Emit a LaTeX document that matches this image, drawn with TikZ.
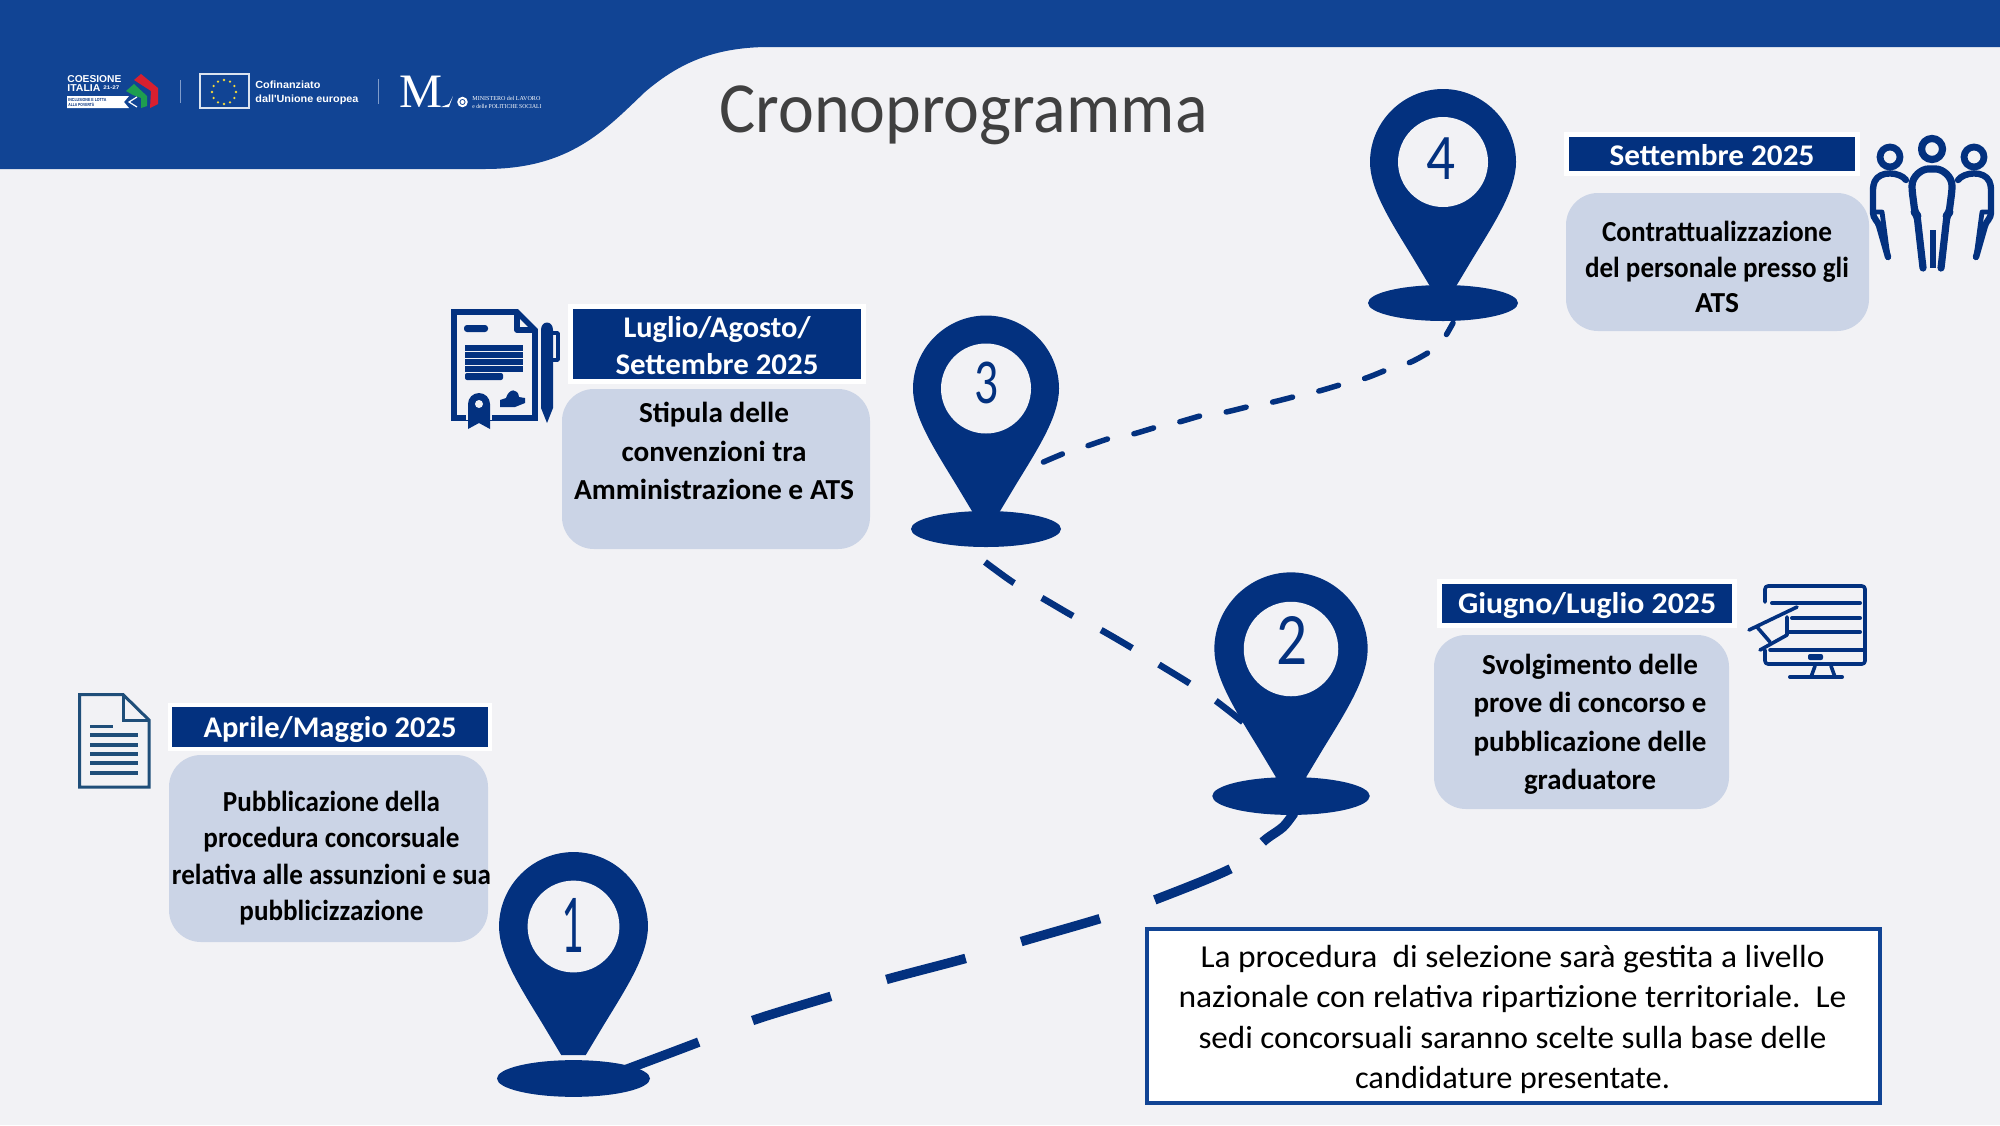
\documentclass[tikz,border=0pt]{standalone}
\usepackage{fontspec}
\usepackage{graphicx}
\usetikzlibrary{shapes.geometric}
\setmainfont{Carlito}
\newfontfamily\logosans{Liberation Sans}
\newfontfamily\logoserif{Liberation Serif}
\definecolor{navy}{HTML}{03317F}
\definecolor{hblue}{HTML}{114494}
\definecolor{bgpage}{HTML}{F2F2F5}
\definecolor{cardfill}{HTML}{CBD4E6}
\definecolor{docblue}{HTML}{1F4E79}
\definecolor{titlegrey}{HTML}{404040}
\definecolor{logored}{HTML}{D8202F}
\definecolor{loggreen}{HTML}{1E9E50}
\definecolor{logsep}{HTML}{7F9CCB}
\definecolor{eustar}{HTML}{F4D93A}
% one line of text set to a measured width (pixels of the reference)
\newcommand\Ln[2]{\resizebox{\dimexpr#1pt/2\relax}{\height}{#2}}
\newcommand\Dn[2]{\raisebox{#1}[\height][\depth]{#2}}
\tikzset{
  x=0.5pt,y=-0.5pt,
  boxsize/.style 2 args={minimum width=#1*0.5pt,minimum height=#2*0.5pt},
  datebox/.style={fill=navy,draw=white,line width=2.2pt,text=white,inner sep=0pt,outer sep=0pt,
     align=center,font=\bfseries\fontsize{15}{18.5}\selectfont},
  card/.style={fill=cardfill,rounded corners=16pt,inner sep=0pt,outer sep=0pt},
  cardtext/.style={text=black,inner sep=0pt,align=center,font=\bfseries\fontsize{14.5}{#1}\selectfont},
  pinbase/.style={ellipse,fill=navy,inner sep=0pt,outer sep=0pt},
  pinhole/.style={circle,fill=bgpage,inner sep=0pt,outer sep=0pt},
  pindigit/.style={text=navy,inner sep=0pt,outer sep=0pt},
  road/.style={navy,line width=#1*0.5pt},
  icon/.style={navy,line width=1.8pt,line join=round,line cap=round},
  logotxt/.style={text=white,inner sep=0pt,font=\logosans\bfseries\fontsize{#1}{#1}\selectfont},
}
% id, cx, cy, scale, base offset
\newcommand\placepin[5]{%
  \begin{scope}[shift={(#2,#3)},scale=#4]
    \fill[navy] (12,126) -- (30,96) .. controls (52,60) and (73,28) .. (73,0)
      .. controls (73,-40) and (40,-73) .. (0,-73)
      .. controls (-40,-73) and (-73,-40) .. (-73,0)
      .. controls (-73,28) and (-52,60) .. (-30,96) -- (-12,126) -- cycle;
    \node[pinbase,minimum width=#4*75pt,minimum height=#4*18pt] (base#1) at (0,#5) {};
    \node[pinhole,minimum size=#4*45pt] (hole#1) at (0,0) {};
  \end{scope}}
\begin{document}
\begin{tikzpicture}
\useasboundingbox (0,0) rectangle (2000,1125);
\fill[bgpage] (0,0) rectangle (2000,1125);
% header band
\fill[hblue] (0,0) -- (2000,0) -- (2000,47) -- (765,47)
  .. controls (715,48) and (680,62) .. (645,92)
  .. controls (605,130) and (570,169) .. (485,169) -- (0,169) -- cycle;
% --- logos
\node[logotxt=5,anchor=base west] (lgA) at (67,82) {\Ln{54}{COESIONE}};
\node[logotxt=5,anchor=base west] (lgB) at (67,91) {\Ln{33}{ITALIA}};
\node[logotxt=2.6,anchor=base west] (lgC) at (103,89) {\Ln{16}{21-27}};
\fill[white] (67,96) -- (129,96) -- (124,102) -- (129,108) -- (67,108) -- cycle;
\node[logotxt=2.2,text=navy,anchor=base west] (lgD) at (68,101.5) {\Ln{38}{INCLUSIONE E LOTTA}};
\node[logotxt=2.2,text=navy,anchor=base west] (lgE) at (68,106.5) {\Ln{26}{ALLA POVERTÀ}};
\fill[logored] (134,80) -- (141,74) -- (158,88) -- (158,104) -- (150,108) -- (151,91) -- cycle;
\fill[loggreen] (126,91) -- (134,84) -- (147,96) -- (147,106) -- (141,108) -- (141,98) -- (133,95) -- cycle;
\draw[white,line width=0.6pt] (137,97) -- (129,102) -- (137,107);
\draw[logsep,line width=0.5pt] (180,80) -- (180,103);
\draw[white!85!hblue,line width=0.6pt] (200,74) rectangle (249,108);
\foreach \a in {0,30,...,330} \fill[eustar] (224,92) ++(\a:12) circle (1.3);
\node[logotxt=5.2,anchor=base west] (lgF) at (255,88) {\Ln{65}{Cofinanziato}};
\node[logotxt=5.2,anchor=base west] (lgG) at (255,102) {\Ln{103}{dall'Unione europea}};
\draw[logsep,line width=0.5pt] (378,79) -- (378,104);
\node[text=white,inner sep=0pt,anchor=base west,font=\logoserif\fontsize{24}{24}\selectfont] (lgH) at (399,107) {\Ln{43}{M}};
\fill[white] (441,107) -- (449,107) -- (453,96) -- (449,104) -- cycle;
\draw[white,line width=1pt] (462.5,102) circle (4.2);
\fill[white] (462.5,102) circle (2);
\node[text=white,inner sep=0pt,anchor=base west,font=\logoserif\fontsize{3}{3}\selectfont] (lgI) at (472,100) {\Ln{68}{MINISTERO del LAVORO}};
\node[text=white,inner sep=0pt,anchor=base west,font=\logoserif\fontsize{3}{3}\selectfont] (lgJ) at (472,108) {\Ln{69}{e delle POLITICHE SOCIALI}};
% title
\node[text=titlegrey,inner sep=0pt,anchor=base,font=\fontsize{36}{36}\selectfont] (title) at (963.5,132) {\Ln{488}{Cronoprogramma}};
% pins
\placepin{4}{1443}{162}{1}{141}
\placepin{3}{986}{388.5}{1}{140.5}
\placepin{2}{1291}{649}{1.05}{140}
\placepin{1}{573.5}{926.5}{1.02}{149}
\node[pindigit,font=\fontsize{32.5}{32.5}\selectfont] (num4) at (1441,159) {\Ln{29}{4}};
\node[pindigit,font=\fontsize{32}{32}\selectfont] (num3) at (986,383) {\Ln{24}{3}};
\node[pindigit,font=\fontsize{37}{37}\selectfont] (num2) at (1292,640.5) {\Ln{31}{2}};
\node[pindigit,font=\fontsize{42}{42}\selectfont] (num1) at (572,925) {\Ln{22}{1}};
% connectors
\coordinate (s12) at (622,1071);
\coordinate (e12) at (1294,813);
\coordinate (s23) at (985,562);
\coordinate (e23) at (1243,722);
\coordinate (s34) at (1043.5,462);
\coordinate (e34) at (1453,323);
\draw[road=9.5,dash pattern=on 41pt off 29pt on 41pt off 29pt on 41pt off 29pt on 41pt off 29pt on 41pt off 21pt on 41pt off 29pt] plot[smooth,tension=0.5] coordinates {(s12) (699,1042) (754,1020) (832,996) (888,979) (967,958) (1023,941) (1102,918) (1157,899) (1234,867) (1265,840) (1283,827) (e12)};
\draw[road=6.5,dash pattern=on 18pt off 15.7pt] plot[smooth,tension=0.5] coordinates {(s23) (1014,583) (1042,598) (1073,616) (1101,630) (1132,648) (1158,664) (1189,683) (1216,701) (e23)};
\draw[road=5.5,line cap=round,dash pattern=on 10.25pt off 13.5pt] plot[smooth,tension=0.5] coordinates {(s34) (1065,453) (1087,446) (1111,438) (1133,434) (1157,427) (1179,422) (1204,415) (1226,412) (1251,406) (1273,402) (1297,396) (1319,391) (1343,384) (1366,378) (1389,369) (1411,362) (1434,349) (1443,340) (e34)};
% --- step 1
\node[datebox,boxsize={319.5}{44}] (date1) at (330,727) {\Dn{-1.2pt}{\Ln{253}{Aprile/Maggio 2025}}};
\node[card,boxsize={319}{187}] (card1) at (328.5,848.5) {};
\node[cardtext=18.25] (text1) at (331.5,858.3) {\Ln{217}{Pubblicazione della}\\\Ln{256}{procedura concorsuale}\\\Ln{319}{relativa alle assunzioni e sua}\\\Ln{184}{pubblicizzazione}};
% --- step 2
\node[datebox,boxsize={295}{44}] (date2) at (1587,603.5) {\Dn{-1.2pt}{\Ln{258}{Giugno/Luglio 2025}}};
\node[card,boxsize={295}{174}] (card2) at (1581.5,722) {};
\node[cardtext=19.25] (text2) at (1590,724.5) {\Ln{216}{Svolgimento delle}\\\Ln{233}{prove di concorso e}\\\Ln{233}{pubblicazione delle}\\\Ln{132}{graduatore}};
% --- step 3
\node[datebox,boxsize={293}{75}] (date3) at (717,344) {\Dn{-0.6pt}{\Ln{187}{Luglio/Agosto/}}\\\Dn{-0.6pt}{\Ln{203}{Settembre 2025}}};
\node[card,boxsize={308}{160}] (card3) at (716,469) {};
\node[cardtext=19.25] (text3) at (714,451) {\Ln{150}{Stipula delle}\\\Ln{185}{convenzioni tra}\\\Ln{280}{Amministrazione e ATS}};
% --- step 4
\node[datebox,boxsize={291}{39}] (date4) at (1712,154) {\Dn{-0.6pt}{\Ln{205}{Settembre 2025}}};
\node[card,boxsize={303}{138}] (card4) at (1717.5,262) {};
\node[cardtext=17.75] (text4) at (1717,267) {\Ln{230}{Contrattualizzazione}\\\Ln{264}{del personale presso gli}\\\Ln{44}{ATS}};
% --- note
\node[draw=hblue,fill=white,line width=2pt,inner sep=0pt,outer sep=0pt,boxsize={733}{174}] (note) at (1513,1015.5) {};
\node[text=black,inner sep=0pt,align=center,font=\fontsize{16}{20.2}\selectfont] (notetext) at (1512.5,1019.5) {\Ln{624}{La procedura\ \ di selezione sarà gestita a livello}\\\Ln{668}{nazionale con relativa ripartizione territoriale.\ \ Le}\\\Ln{628}{sedi concorsuali saranno scelte sulla base delle}\\\Ln{315}{candidature presentate.}};
% --- document icon
\draw[docblue,line width=1.5pt,line join=miter,fill=bgpage] (79.5,694.5) -- (123,694.5) -- (149,720) -- (149,787) -- (79.5,787) -- cycle;
\draw[docblue,line width=1.5pt,line join=miter] (123,694.5) -- (123,720) -- (149,720);
\draw[docblue,line width=1.5pt] (90,726) -- (113,726);
\foreach \yy in {735,745,754,763,773} \draw[docblue,line width=1.6pt] (90,\yy) -- (138,\yy);
% --- contract icon
\draw[icon,line width=2.8pt,line join=miter,line cap=butt] (535,330) -- (517,312) -- (454,312) -- (454,418) -- (535,418) -- cycle;
\draw[icon,line width=2.8pt,line cap=butt] (517,312) -- (517,330) -- (535,330);
\fill[navy,rounded corners=1.5pt] (464,325) rectangle (488,332);
\foreach \yy in {345,352,359,366} \fill[navy] (465,\yy) rectangle (523,\yy+6);
\fill[navy,rounded corners=1pt] (465,373) rectangle (503,380);
\fill[bgpage] (466,392) rectangle (492,420);
\fill[navy] (468,429) -- (468,404) arc[start angle=180,end angle=360,radius=11] -- (490,429) -- (479,423) -- cycle;
\fill[bgpage] (479,404) circle (4);
\fill[navy] (500,407) -- (500,400) -- (506,398) .. controls (509,388) and (518,388) .. (519,397) -- (525,398) -- (525,403) -- (515,407) -- cycle;
\fill[navy] (541,408) -- (541,330) .. controls (541,320) and (553,320) .. (553,330) -- (553,408) -- (547,423) -- cycle;
\draw[icon,line width=1.8pt,line cap=butt] (553,333) -- (558,333) -- (558,360) -- (553,360);
% --- monitor icon
\draw[icon,rounded corners=1.5pt] (1765,602) -- (1765,586) -- (1865,586) -- (1865,664) -- (1765,664) -- (1765,650);
\draw[icon,line width=2pt] (1772,603) -- (1860,603);
\draw[icon,line width=2pt] (1792,618) -- (1860,618);
\draw[icon,line width=2pt] (1788,632) -- (1860,632);
\draw[icon] (1770,650) -- (1863,650);
\fill[navy,rounded corners=1pt] (1808,654) rectangle (1823,660);
\draw[icon] (1815,666) -- (1811,677);
\draw[icon] (1831,666) -- (1835,677);
\draw[icon,line width=2pt] (1790,677) -- (1842,677);
\draw[icon] (1749,630) -- (1797,607);
\draw[icon] (1760,650) -- (1787,635) -- (1787,617);
\draw[icon] (1757,627) -- (1770,642);
% --- people icon
\draw[icon,line width=3.6pt] (1932,149) circle (10.5);
\draw[icon,line width=3.4pt] (1890,157) circle (10);
\draw[icon,line width=3.4pt] (1974,157) circle (10);
\draw[icon,line width=3.6pt,rounded corners=2pt] (1923,268) -- (1917,215) -- (1915,213) -- (1912,190) .. controls (1912,176) and (1922,169) .. (1932,169) .. controls (1942,169) and (1952,176) .. (1952,190) -- (1949,213) -- (1947,215) -- (1941,268);
\fill[navy] (1930,230) rectangle (1936,268);
\draw[icon,line width=3.2pt,rounded corners=2pt] (1906,180) .. controls (1900,172) and (1880,170) .. (1873,185) -- (1873,217) -- (1878,222) -- (1888,257);
\draw[icon,line width=2.4pt] (1874,212) -- (1882,212) -- (1888,257);
\draw[icon,line width=3.2pt,rounded corners=2pt] (1958,180) .. controls (1964,172) and (1984,170) .. (1991,185) -- (1991,217) -- (1986,222) -- (1976,257);
\draw[icon,line width=2.4pt] (1990,212) -- (1982,212) -- (1976,257);
\end{tikzpicture}
\end{document}
